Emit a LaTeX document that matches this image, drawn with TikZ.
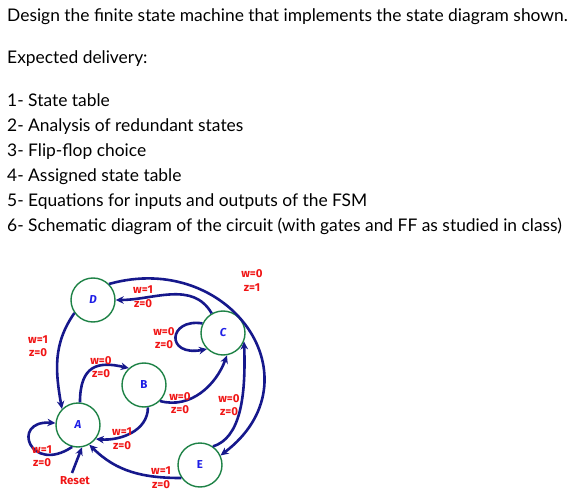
\documentclass[tikz,border=0pt]{standalone}
\usepackage{fontspec}
\setmainfont{Lato}
\newfontfamily\lblfont{Fira Sans}
\usetikzlibrary{arrows.meta}
\definecolor{arrowc}{RGB}{22,24,140}
\definecolor{circc}{RGB}{30,130,70}
\definecolor{statec}{RGB}{30,30,230}
\definecolor{labc}{RGB}{240,20,20}
\tikzset{
  txt/.style={anchor=base west,inner sep=0pt,font=\fontsize{17.4}{20}\selectfont},
  state/.style={circle,draw=circc,line width=1.4pt,minimum size=44pt,inner sep=0pt,
    text=statec,font=\lblfont\bfseries\fontsize{11.5}{13}\selectfont},
  lab/.style={text=labc,align=center,inner sep=0pt,font=\lblfont\bfseries\fontsize{11.5}{13.5}\selectfont},
  tr/.style={draw=arrowc,line width=2.6pt,-{Stealth[length=8pt,width=7.5pt]}},
}
\begin{document}
\begin{tikzpicture}[x=1pt,y=1pt]
\useasboundingbox (0,0) rectangle (575,493);
% text
\node[txt] (t1) at (7,471) {Design the finite state machine that implements the state diagram shown.};
\node[txt] (t2) at (7,429) {Expected delivery:};
\node[txt] (t3) at (7,386) {1- State table};
\node[txt] (t4) at (7,361) {2- Analysis of redundant states};
\node[txt] (t5) at (7,336) {3- Flip-flop choice};
\node[txt] (t6) at (7,311) {4- Assigned state table};
\node[txt] (t7) at (7,286) {5- Equations for inputs and outputs of the FSM};
\node[txt] (t8) at (7,261) {6- Schematic diagram of the circuit (with gates and FF as studied in class)};
% states
\node[state] (D) at (93,193) {\itshape D};
\node[state] (C) at (223,160) {\itshape C};
\node[state] (B) at (144,108) {B};
\node[state] (A) at (78,68) {\itshape A};
\node[state] (E) at (200,28) {E};
\coordinate (R) at (72,20);
% transitions
\draw[tr] (C.120) to[out=120,in=0] (D.0);
\draw[tr] (D.215) to[out=235,in=100] (A.135);
\draw[tr] (D.45) .. controls (230,243) and (320,113) .. (E.25);
\draw[tr] (C.155) .. controls (168,175) and (165,136) .. (C.225);
\draw[tr] (A.85) .. controls (80,128) and (98,132) .. (B.132);
\draw[tr] (B.-45) to[out=-15,in=250] (C.-80);
\draw[tr] (E.55) .. controls (240,55) and (246,95) .. (C.-22);
\draw[tr] (B.-80) to[out=-90,in=-5] (A.-38);
\draw[tr] (A.-105) .. controls (30,18) and (10,73) .. (A.175);
\draw[tr] (R) -- (A.-80);
\draw[tr] (E.215) to[out=180,in=-45] (A.-60);
% labels
\node[lab] (l1) at (143,196.5) {w=1\\z=0};
\node[lab] (l2) at (252,212.5) {w=0\\z=1};
\node[lab] (l3) at (38,147) {w=1\\z=0};
\node[lab] (l4) at (164,155) {w=0\\z=0};
\node[lab] (l5) at (101,126) {w=0\\z=0};
\node[lab] (l6) at (180,90) {w=0\\z=0};
\node[lab] (l7) at (229,88) {w=0\\z=0};
\node[lab] (l8) at (122,54.5) {w=1\\z=0};
\node[lab] (l9) at (42,37) {w=1\\z=0};
\node[lab] (l10) at (75,12) {Reset};
\node[lab] (l11) at (161,15.5) {w=1\\z=0};
\end{tikzpicture}
\end{document}
